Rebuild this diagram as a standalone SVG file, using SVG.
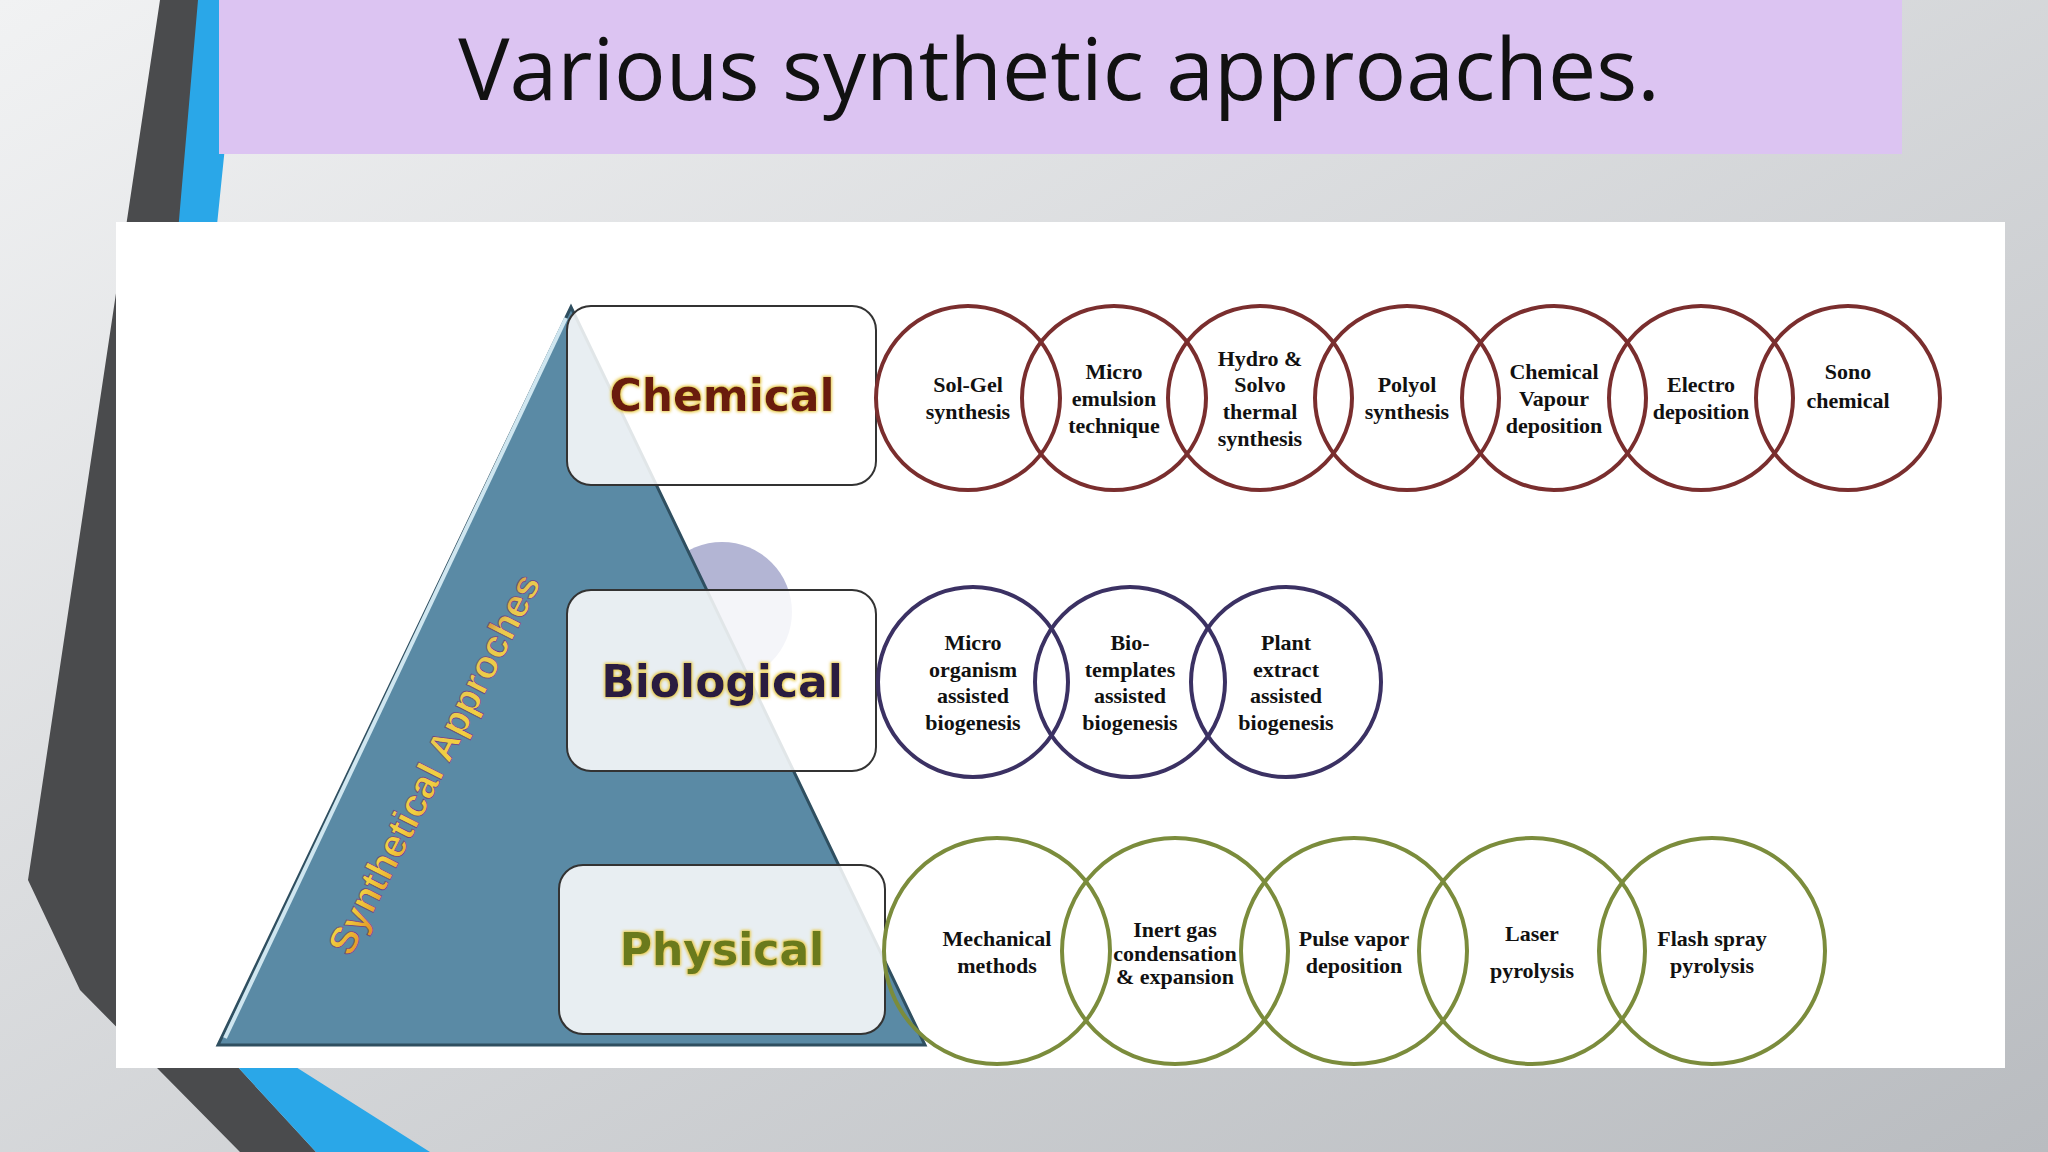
<svg xmlns="http://www.w3.org/2000/svg" width="2048" height="1152" viewBox="0 0 2048 1152">
<defs>
<linearGradient id="bg" x1="0" y1="0" x2="1" y2="1"><stop offset="0" stop-color="#f1f2f3"/><stop offset="1" stop-color="#b9bcc0"/></linearGradient>
<linearGradient id="sa" x1="0" y1="1" x2="1" y2="0"><stop offset="0" stop-color="#e08a20"/><stop offset="0.4" stop-color="#f2d040"/><stop offset="0.7" stop-color="#e8c850"/><stop offset="1" stop-color="#c06a30"/></linearGradient>
<filter id="glow" x="-10%" y="-30%" width="120%" height="160%"><feGaussianBlur in="SourceAlpha" stdDeviation="2"/><feFlood flood-color="#e8c840"/><feComposite operator="in" in2="SourceAlpha"/><feMorphology operator="dilate" radius="1"/><feGaussianBlur stdDeviation="1.5"/><feMerge><feMergeNode/><feMergeNode in="SourceGraphic"/></feMerge></filter>
</defs>
<style>
.box{fill:#fff;fill-opacity:0.86;stroke:#333;stroke-width:2}
.lab{font-family:"DejaVu Sans","Liberation Sans",sans-serif;font-weight:bold;font-size:44px;text-anchor:middle}
.ct{font-family:"Liberation Serif",serif;font-weight:bold;font-size:22px;text-anchor:middle;fill:#111}
.cc{fill:none;stroke:#7a2e2e;stroke-width:4}
.cb{fill:none;stroke:#3b3163;stroke-width:4}
.cp{fill:none;stroke:#7b8c3c;stroke-width:4}
</style>
<rect width="2048" height="1152" fill="url(#bg)"/>
<polygon points="160,0 212,0 122,880 176,1000 316,1152 240,1152 80,990 28,880" fill="#4a4b4d"/>
<polygon points="198,0 240,0 150,880 190,1000 430,1152 316,1152 176,1000 122,880" fill="#2aa7e8"/>
<rect x="219" y="0" width="1683" height="154" fill="#dcc4f2"/>
<text x="1059" y="100" font-family="Open Sans,DejaVu Sans,sans-serif" font-size="86" text-anchor="middle" fill="#111">Various synthetic approaches.</text>
<rect x="116" y="222" width="1889" height="846" fill="#fff"/>
<g id="pyramid">
<circle cx="722" cy="612" r="70" fill="#b3b5d4"/>
<polygon points="571,307 218,1045 925,1045" fill="#5a8aa5" stroke="#2f4f60" stroke-width="3"/>
<polyline points="566,318 225,1038" fill="none" stroke="#cfe6f0" stroke-width="4"/>
<text transform="translate(446,770) rotate(-63)" font-family="Liberation Sans,sans-serif" font-weight="bold" font-size="39" text-anchor="middle" fill="url(#sa)" stroke="#6a3a8a" stroke-width="0.7">Synthetical Approches</text>
</g>
<g id="chemical">
<rect class="box" x="567" y="306" width="309" height="179" rx="24"/>
<text class="lab" x="722" y="411" fill="#6b1a10" filter="url(#glow)">Chemical</text>
</g>
<g id="biological">
<rect class="box" x="567" y="590" width="309" height="181" rx="24"/>
<text class="lab" x="722" y="697" fill="#2a1a40" filter="url(#glow)">Biological</text>
</g>
<g id="physical">
<rect class="box" x="559" y="865" width="326" height="169" rx="24"/>
<text class="lab" x="722" y="965" fill="#6b7a1a" filter="url(#glow)">Physical</text>
</g>
<g id="chem-methods">
<circle class="cc" cx="968" cy="398" r="92"/><circle class="cc" cx="1114" cy="398" r="92"/><circle class="cc" cx="1260" cy="398" r="92"/><circle class="cc" cx="1407" cy="398" r="92"/><circle class="cc" cx="1554" cy="398" r="92"/><circle class="cc" cx="1701" cy="398" r="92"/><circle class="cc" cx="1848" cy="398" r="92"/>
<text class="ct" x="968" y="392">Sol-Gel</text><text class="ct" x="968" y="419">synthesis</text>
<text class="ct" x="1114" y="379">Micro</text><text class="ct" x="1114" y="406">emulsion</text><text class="ct" x="1114" y="433">technique</text>
<text class="ct" x="1260" y="366">Hydro &amp;</text><text class="ct" x="1260" y="392">Solvo</text><text class="ct" x="1260" y="419">thermal</text><text class="ct" x="1260" y="446">synthesis</text>
<text class="ct" x="1407" y="392">Polyol</text><text class="ct" x="1407" y="419">synthesis</text>
<text class="ct" x="1554" y="379">Chemical</text><text class="ct" x="1554" y="406">Vapour</text><text class="ct" x="1554" y="433">deposition</text>
<text class="ct" x="1701" y="392">Electro</text><text class="ct" x="1701" y="419">deposition</text>
<text class="ct" x="1848" y="379">Sono</text><text class="ct" x="1848" y="408">chemical</text>
</g>
<g id="bio-methods">
<circle class="cb" cx="973" cy="682" r="95"/><circle class="cb" cx="1130" cy="682" r="95"/><circle class="cb" cx="1286" cy="682" r="95"/>
<text class="ct" x="973" y="650">Micro</text><text class="ct" x="973" y="677">organism</text><text class="ct" x="973" y="703">assisted</text><text class="ct" x="973" y="730">biogenesis</text>
<text class="ct" x="1130" y="650">Bio-</text><text class="ct" x="1130" y="677">templates</text><text class="ct" x="1130" y="703">assisted</text><text class="ct" x="1130" y="730">biogenesis</text>
<text class="ct" x="1286" y="650">Plant</text><text class="ct" x="1286" y="677">extract</text><text class="ct" x="1286" y="703">assisted</text><text class="ct" x="1286" y="730">biogenesis</text>
</g>
<g id="phys-methods">
<circle class="cp" cx="997" cy="951" r="113"/><circle class="cp" cx="1175" cy="951" r="113"/><circle class="cp" cx="1354" cy="951" r="113"/><circle class="cp" cx="1532" cy="951" r="113"/><circle class="cp" cx="1712" cy="951" r="113"/>
<text class="ct" x="997" y="946">Mechanical</text><text class="ct" x="997" y="973">methods</text>
<text class="ct" x="1175" y="937">Inert gas</text><text class="ct" x="1175" y="961" font-size="19">condensation</text><text class="ct" x="1175" y="984" font-size="19">&amp; expansion</text>
<text class="ct" x="1354" y="946">Pulse vapor</text><text class="ct" x="1354" y="973">deposition</text>
<text class="ct" x="1532" y="941">Laser</text><text class="ct" x="1532" y="978">pyrolysis</text>
<text class="ct" x="1712" y="946">Flash spray</text><text class="ct" x="1712" y="973">pyrolysis</text>
</g>
<g id="connectors"></g>
</svg>
